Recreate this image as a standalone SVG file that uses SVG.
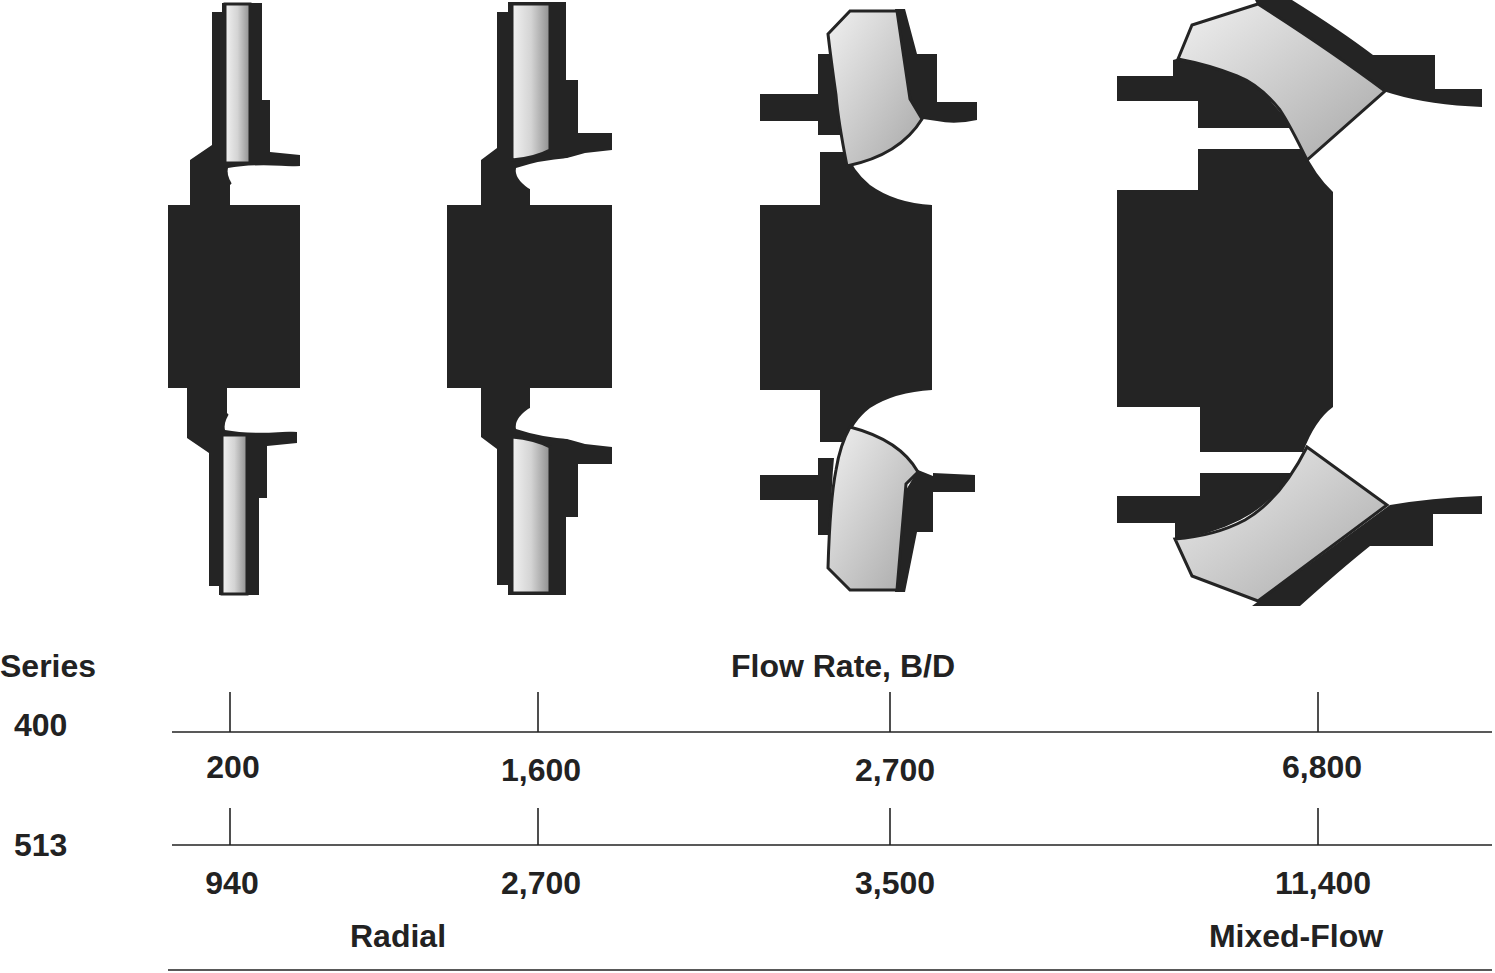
<svg xmlns="http://www.w3.org/2000/svg" width="1495" height="973" viewBox="0 0 1495 973">
<defs>
<linearGradient id="gh" x1="0" y1="0" x2="1" y2="0"><stop offset="0" stop-color="#f2f2f2"/><stop offset="0.5" stop-color="#d4d4d4"/><stop offset="1" stop-color="#8f8f8f"/></linearGradient>
<linearGradient id="gd" x1="0" y1="0" x2="1" y2="1"><stop offset="0" stop-color="#f0f0f0"/><stop offset="1" stop-color="#a8a8a8"/></linearGradient>
<style>
.d{fill:#242424}
.w{fill:#fff}
.b{fill:url(#gh);stroke:#242424;stroke-width:3}
.bd{fill:url(#gd);stroke:#242424;stroke-width:3}
.t{font-family:"Liberation Sans",Arial,sans-serif;font-weight:bold;font-size:32px;fill:#222}
.ln{stroke:#222;stroke-width:1.6;fill:none}
</style>
<g id="half1">
<polygon class="d" points="190,210 190,160 212,145 212,12 222,12 222,3 262,3 262,100 270,100 270,152 300,155 300,166 275,168 250,172 240,175 230,185 230,210"/>
<path class="w" d="M228,168 Q255,163 300,167 L300,199 Q245,200 234,187 Q226,176 228,168 Z"/>
<rect class="b" x="225" y="4" width="25" height="159"/>
</g>
<g id="half2">
<polygon class="d" points="481,210 481,160 497,148 497,12 508,12 508,2 566,2 566,80 578,80 578,133 612,133 612,150 585,153 560,160 540,170 530,185 530,210"/>
<path class="w" d="M516,168 Q540,160 568,158 L612,152 L612,199 Q545,200 528,188 Q514,178 516,168 Z"/>
<path class="b" d="M512,4 L550,4 L550,150 Q535,158 512,160 Z"/>
</g>
</defs>
<g id="impeller1">
<rect class="d" x="168" y="205" width="132" height="183"/>
<use href="#half1"/>
<use href="#half1" transform="matrix(1,0,0,-1,-3,598)"/>
</g>
<g id="impeller2">
<rect class="d" x="447" y="205" width="165" height="183"/>
<use href="#half2"/>
<use href="#half2" transform="matrix(1,0,0,-1,0,597)"/>
</g>
<g id="impeller3">
<path class="d" d="M820,152 L847,152 Q852,170 870,185 Q895,203 932,205 L932,390 Q895,392 870,408 Q852,422 847,442 L820,442 L820,390 L760,390 L760,205 L820,205 Z"/>
<path class="d" d="M818,54 L831,54 Q838,100 845,135 L818,135 L818,121 L760,121 L760,94 L818,94 Z"/>
<path class="d" d="M895,9 L905,9 L917,54 L937,54 L937,102 L977,102 L977,120 Q955,125 937,121 L923,119 L910,101 Z"/>
<path class="bd" d="M828,34 L850,11 L897,11 L910,99 L922,119 Q900,155 847,166 Q838,120 836,95 Q831,60 828,34 Z"/>
<path class="d" d="M818,458 L834,458 Q830,500 832,535 L818,535 L818,500 L760,500 L760,475 L818,475 Z"/>
<path class="d" d="M918,470 L933,476 L933,473 L975,475 L975,492 L933,492 L933,532 L917,532 L905,592 L895,592 L906,490 Z"/>
<path class="bd" d="M850,427 Q900,440 918,472 L906,484 L897,590 L850,590 L828,568 Q830,500 836,470 Q840,445 850,427 Z"/>
</g>
<g id="impeller4">
<path class="d" d="M1198,149 L1303,149 Q1315,175 1333,192 L1333,407 Q1315,420 1303,452 L1200,452 L1200,407 L1117,407 L1117,190 L1198,190 Z"/>
<path class="d" d="M1255,0 L1292,0 Q1340,30 1373,55 L1435,55 L1435,89 L1482,89 L1482,107 Q1430,105 1393,94 L1383,91 L1258,6 Z"/>
<path class="d" d="M1173,60 L1180,58 Q1240,70 1265,95 Q1280,110 1292,128 L1198,128 L1198,101 L1117,101 L1117,76 L1173,76 Z"/>
<path class="bd" d="M1178,59 L1192,25 L1258,4 Q1330,50 1385,91 L1307,160 Q1290,125 1280,110 Q1260,85 1237,76 Q1210,65 1178,59 Z"/>
<path class="d" d="M1252,606 L1300,606 Q1340,570 1370,546 L1433,546 L1433,514 L1482,514 L1482,496 Q1430,498 1390,505 Z"/>
<path class="d" d="M1200,473 L1292,473 Q1270,505 1240,520 Q1210,535 1175,540 L1175,523 L1117,523 L1117,496 L1200,496 Z"/>
<path class="bd" d="M1307,447 L1387,505 L1258,601 L1192,576 L1175,539 Q1215,536 1245,520 Q1280,500 1307,447 Z"/>
</g>
<g id="axes">
<line class="ln" x1="172" y1="732" x2="1492" y2="732"/>
<line class="ln" x1="172" y1="845" x2="1492" y2="845"/>
<line class="ln" x1="168" y1="970" x2="1492" y2="970"/>
<line class="ln" x1="230" y1="692" x2="230" y2="732"/>
<line class="ln" x1="538" y1="692" x2="538" y2="732"/>
<line class="ln" x1="890" y1="692" x2="890" y2="732"/>
<line class="ln" x1="1318" y1="692" x2="1318" y2="732"/>
<line class="ln" x1="230" y1="808" x2="230" y2="845"/>
<line class="ln" x1="538" y1="808" x2="538" y2="845"/>
<line class="ln" x1="890" y1="808" x2="890" y2="845"/>
<line class="ln" x1="1318" y1="808" x2="1318" y2="845"/>
</g>
<g id="labels" class="t">
<text x="0" y="677">Series</text>
<text x="843" y="677" text-anchor="middle">Flow Rate, B/D</text>
<text x="14" y="736">400</text>
<text x="14" y="856">513</text>
<text x="233" y="778" text-anchor="middle">200</text>
<text x="541" y="781" text-anchor="middle">1,600</text>
<text x="895" y="781" text-anchor="middle">2,700</text>
<text x="1322" y="778" text-anchor="middle">6,800</text>
<text x="232" y="894" text-anchor="middle">940</text>
<text x="541" y="894" text-anchor="middle">2,700</text>
<text x="895" y="894" text-anchor="middle">3,500</text>
<text x="1323" y="894" text-anchor="middle">11,400</text>
<text x="398" y="947" text-anchor="middle">Radial</text>
<text x="1296" y="947" text-anchor="middle">Mixed-Flow</text>
</g>
</svg>
